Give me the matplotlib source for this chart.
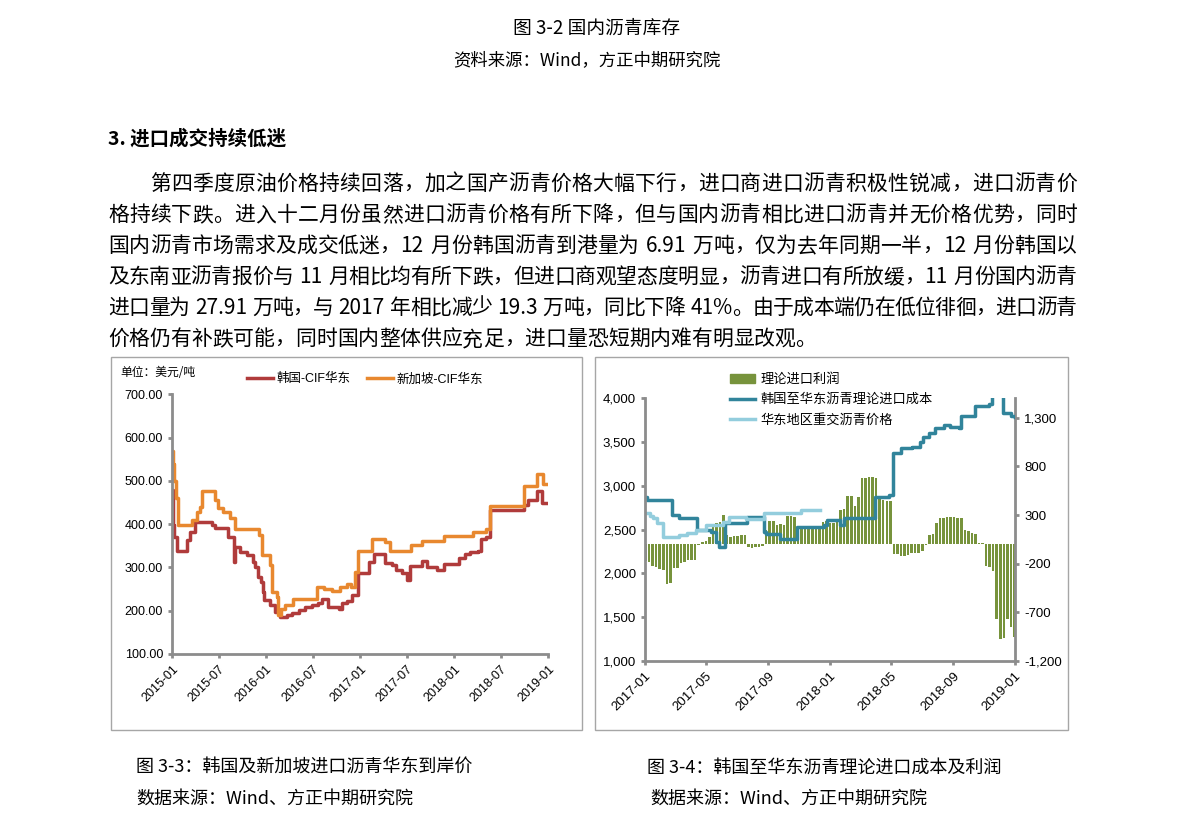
import re
import numpy as np
import pandas as pd
import matplotlib
matplotlib.use("Agg")
import matplotlib.pyplot as plt
import matplotlib.dates as mdates
from matplotlib.patches import Rectangle, Patch
from matplotlib.lines import Line2D
from matplotlib.ticker import FuncFormatter

W, H = 1191, 826
CJK = ["Noto Sans CJK SC", "DejaVu Sans"]
NUM = ["Liberation Sans", "Noto Sans CJK SC"]
plt.rcParams["font.family"] = CJK

# ---- 文字 ----
title_top = "图 3-2 国内沥青库存"
source_top = "资料来源：Wind，方正中期研究院"
heading = "3. 进口成交持续低迷"
para = [
    "第四季度原油价格持续回落，加之国产沥青价格大幅下行，进口商进口沥青积极性锐减，进口沥青价",
    "格持续下跌。进入十二月份虽然进口沥青价格有所下降，但与国内沥青相比进口沥青并无价格优势，同时",
    "国内沥青市场需求及成交低迷，12 月份韩国沥青到港量为 6.91 万吨，仅为去年同期一半，12 月份韩国以",
    "及东南亚沥青报价与 11 月相比均有所下跌，但进口商观望态度明显，沥青进口有所放缓，11 月份国内沥青",
    "进口量为 27.91 万吨，与 2017 年相比减少 19.3 万吨，同比下降 41%。由于成本端仍在低位徘徊，进口沥青",
    "价格仍有补跌可能，同时国内整体供应充足，进口量恐短期内难有明显改观。",
]
cap1 = "图 3-3：韩国及新加坡进口沥青华东到岸价"
cap2 = "图 3-4：韩国至华东沥青理论进口成本及利润"
src = "数据来源：Wind、方正中期研究院"

# ---- 图 3-3 数据 (美元/吨) ----
kr_dates = ["2015-01-01", "2015-01-04", "2015-01-10", "2015-01-22", "2015-02-28", "2015-03-10",
            "2015-03-30", "2015-06-04", "2015-06-16", "2015-08-07", "2015-08-31", "2015-09-04",
            "2015-09-22", "2015-10-19", "2015-11-13", "2015-11-19", "2015-12-03", "2015-12-13",
            "2015-12-19", "2015-12-25", "2016-01-17", "2016-02-06", "2016-02-24", "2016-03-22",
            "2016-04-10", "2016-05-07", "2016-06-01", "2016-06-28", "2016-07-22", "2016-08-04",
            "2016-08-28", "2016-10-10", "2016-10-22", "2016-11-10", "2016-12-01", "2016-12-25",
            "2017-02-04", "2017-02-22", "2017-04-07", "2017-05-04", "2017-05-22", "2017-06-13",
            "2017-07-01", "2017-07-13", "2017-08-28", "2017-09-16", "2017-10-25", "2017-11-22",
            "2018-01-19", "2018-02-13", "2018-03-04", "2018-04-04", "2018-04-16", "2018-05-07",
            "2018-05-19", "2018-09-28", "2018-10-16", "2018-11-19", "2018-12-07", "2019-01-01"]
kr_vals = [478, 398, 371, 339, 363, 383,
           404, 398, 392, 371, 313, 348,
           336, 328, 313, 302, 279, 267,
           244, 225, 213, 198, 185, 191,
           195, 202, 209, 213, 217, 228,
           209, 204, 217, 222, 236, 286,
           313, 330, 310, 306, 294, 286,
           271, 304, 316, 302, 294, 307,
           321, 330, 335, 338, 366, 371,
           433, 444, 456, 477, 448, 448]

sg_dates = ["2015-01-01", "2015-01-04", "2015-01-10", "2015-01-16", "2015-01-25", "2015-03-18",
            "2015-04-07", "2015-04-19", "2015-04-28", "2015-06-16", "2015-06-30", "2015-07-19",
            "2015-08-13", "2015-09-04", "2015-12-04", "2015-12-16", "2016-01-17", "2016-01-25",
            "2016-02-12", "2016-02-18", "2016-02-29", "2016-03-16", "2016-04-16", "2016-07-16",
            "2016-08-13", "2016-09-13", "2016-10-16", "2016-11-10", "2016-11-25", "2016-12-13",
            "2016-12-22", "2017-02-15", "2017-04-07", "2017-04-28", "2017-07-19", "2017-08-28",
            "2017-11-22", "2018-03-16", "2018-05-07", "2018-05-19", "2018-09-28", "2018-11-19",
            "2018-12-13", "2019-01-01"]
sg_vals = [570, 540, 500, 460, 398, 410,
           429, 440, 477, 456, 437, 428,
           415, 388, 375, 329, 306, 244,
           232, 190, 205, 213, 227, 254,
           250, 246, 255, 261, 255, 290,
           339, 366, 358, 338, 352, 362,
           373, 383, 389, 443, 489, 516,
           492, 492]

# ---- 图 3-4 数据 ----
cost_dates = ["2017-01-01", "2017-01-05", "2017-02-23", "2017-03-09", "2017-04-13", "2017-05-11",
              "2017-05-21", "2017-05-27", "2017-06-08", "2017-07-21", "2017-08-23", "2017-08-28",
              "2017-09-24", "2017-10-27", "2017-12-20", "2017-12-27", "2018-01-21", "2018-01-28",
              "2018-03-30", "2018-04-28", "2018-05-05", "2018-05-21", "2018-06-12", "2018-06-27",
              "2018-07-03", "2018-07-16", "2018-07-28", "2018-08-14", "2018-08-25", "2018-09-12",
              "2018-09-16", "2018-10-14", "2018-11-10", "2018-11-17", "2018-12-09", "2018-12-25",
              "2019-01-01"]
cost_vals = [2870, 2839, 2667, 2637, 2500, 2470,
             2363, 2305, 2580, 2650, 2477, 2447,
             2393, 2530, 2553, 2605, 2553, 2637,
             2877, 2896, 3380, 3429, 3440, 3505,
             3562, 3600, 3657, 3695, 3669, 3657,
             3800, 3912, 3940, 4200, 3829, 3800,
             3790]

hd_dates = ["2017-01-01", "2017-01-10", "2017-01-17", "2017-01-24", "2017-02-06", "2017-03-09",
            "2017-03-25", "2017-04-12", "2017-05-01", "2017-06-04", "2017-06-16", "2017-07-20",
            "2017-08-24", "2017-11-04", "2017-12-12"]
hd_vals = [2690, 2660, 2630, 2573, 2420, 2440,
           2460, 2496, 2553, 2592, 2641, 2618,
           2687, 2721, 2721]

# 理论进口利润, 每周一根 (从 2017-01-02 起)
profit = [-173, -180, -224, -230, -258, -262, -405, -400, -241, -245,
          -190, -185, -163, -160, -158, -8, 25, 35, 71, 184,
          215, 225, 303, 90, 78, 85, 88, 92, 98, -30,
          -35, -28, -25, -20, 150, 235, 240, 200, 205, 200,
          286, 290, 282, 190, 184, 186, 180, 188, 184, 190,
          230, 240, 220, 218, 225, 354, 360, 497, 500, 390,
          490, 680, 677, 687, 690, 680, 460, 456, 445, 440,
          -100, -105, -120, -125, -110, -88, -85, -90, -70, -10,
          99, 105, 218, 269, 265, 279, 275, 285, 270, 265,
          150, 133, 116, 110, 14, 10, -224, -230, -276, -769,
          -973, -960, -769, -854, -956]
profit_dates = pd.date_range("2017-01-02", periods=len(profit), freq="7D")


def fx(x):
    return x / W


def fy(y):
    return 1 - y / H


fig = plt.figure(figsize=(W / 100, H / 100), dpi=100)
renderer = fig.canvas.get_renderer()


def text_line(s, x0, y, x1=None, size=15):
    # 两端对齐: 汉字按 1 em, 西文串按实际宽度
    em = size / 72 * 100
    toks = re.findall(r"[A-Za-z0-9.%]+| |.", s)
    items = []
    for t in toks:
        if t == " ":
            items.append((None, em * 0.3))
        elif t.isascii():
            o = fig.text(fx(x0), fy(y), t, fontsize=size, va="center", ha="left")
            items.append((o, o.get_window_extent(renderer).width))
        else:
            o = fig.text(fx(x0), fy(y), t, fontsize=size, va="center", ha="left")
            items.append((o, em))
    total = sum(w for _, w in items)
    gap = (x1 - x0 - total) / (len(items) - 1) if x1 else 0
    x = x0
    for o, w in items:
        if o is not None:
            o.set_x(fx(x))
        x += w + gap


def box(x0, y0, x1, y1):
    fig.patches.append(Rectangle((fx(x0), fy(y1)), fx(x1) - fx(x0), fy(y0) - fy(y1),
                                 transform=fig.transFigure, fill=False, ec="#a6a6a6", lw=1))


# 页面文字
fig.text(fx(597), fy(28), title_top, fontsize=13.5, ha="center", va="center")
fig.text(fx(587), fy(60), source_top, fontsize=12.5, ha="center", va="center")
fig.text(fx(108), fy(139), heading, fontsize=14, fontweight="bold", ha="left", va="center")
line_y = [184, 215, 246, 277, 308, 339]
for i, s in enumerate(para):
    x0 = 150 if i == 0 else 108
    x1 = 1077 if i < len(para) - 1 else None
    text_line(s, x0, line_y[i], x1)

fig.text(fx(136), fy(768), cap1, fontsize=13, ha="left", va="center")
fig.text(fx(136), fy(799), src, fontsize=13, ha="left", va="center")
fig.text(fx(647), fy(768), cap2, fontsize=13, ha="left", va="center")
fig.text(fx(650), fy(799), src, fontsize=13, ha="left", va="center")

box(111, 357, 582, 730)
box(595, 357, 1068, 730)

GREY = "#8c8c8c"


def style_axis(ax, size):
    for s in ax.spines.values():
        s.set_color(GREY)
        s.set_linewidth(2)
    ax.tick_params(color=GREY, width=2, length=3, labelsize=size,
                   labelfontfamily=NUM, labelcolor="black")
    ax.tick_params(axis="x", labelrotation=45)
    plt.setp(ax.get_xticklabels(), ha="right", rotation_mode="anchor")


# ---- 图 3-3 ----
ax1 = fig.add_axes([fx(172), fy(654), fx(548) - fx(172), fy(394.3) - fy(654)])
ax1.plot(pd.to_datetime(kr_dates), kr_vals, drawstyle="steps-post", color="#B03B3B",
         lw=2.5, label="韩国-CIF华东")
ax1.plot(pd.to_datetime(sg_dates), sg_vals, drawstyle="steps-post", color="#E8882F",
         lw=2.5, label="新加坡-CIF华东")
ax1.set_xlim(pd.Timestamp("2015-01-01"), pd.Timestamp("2019-01-01"))
ax1.set_ylim(100, 700)
ax1.set_yticks(np.arange(100, 701, 100))
ax1.yaxis.set_major_formatter(FuncFormatter(lambda v, p: f"{v:.2f}"))
ax1.set_xticks(pd.date_range("2015-01-01", "2019-01-01", freq="6MS"))
ax1.xaxis.set_major_formatter(mdates.DateFormatter("%Y-%m"))
ax1.spines["top"].set_visible(False)
ax1.spines["right"].set_visible(False)
style_axis(ax1, 9)
ax1.legend(loc="upper left", bbox_to_anchor=(fx(247), fy(373)), bbox_transform=fig.transFigure,
           ncol=2, frameon=False, prop={"family": NUM, "size": 9}, handlelength=2.1,
           handletextpad=0.25, columnspacing=1.3, borderpad=0, borderaxespad=0)
fig.text(fx(120), fy(372), "单位：美元/吨", fontsize=8.5, ha="left", va="center")

# ---- 图 3-4 ----
ax2 = fig.add_axes([fx(645), fy(661), fx(1015) - fx(645), fy(398.3) - fy(661)])
axb = ax2.twinx()
axb.bar(profit_dates, profit, width=5, color="#77933C", align="center")
ax2.set_zorder(axb.get_zorder() + 1)
ax2.patch.set_visible(False)
ax2.plot(pd.to_datetime(cost_dates), cost_vals, drawstyle="steps-post", color="#31849B", lw=2.5)
ax2.plot(pd.to_datetime(hd_dates), hd_vals, drawstyle="steps-post", color="#93CDDD", lw=2.5)
ax2.set_xlim(pd.Timestamp("2017-01-01"), pd.Timestamp("2019-01-01"))
ax2.set_ylim(1000, 4000)
ax2.set_yticks(np.arange(1000, 4001, 500))
axb.set_ylim(-1200, 1500)
axb.set_yticks(np.arange(-1200, 1301, 500))
comma = FuncFormatter(lambda v, p: f"{v:,.0f}")
ax2.yaxis.set_major_formatter(comma)
axb.yaxis.set_major_formatter(comma)
ax2.set_xticks(pd.date_range("2017-01-01", "2019-01-01", freq="4MS"))
ax2.xaxis.set_major_formatter(mdates.DateFormatter("%Y-%m"))
for s in ["top", "right"]:
    ax2.spines[s].set_visible(False)
for s in ["top", "left", "bottom"]:
    axb.spines[s].set_visible(False)
style_axis(ax2, 9.5)
style_axis(axb, 9.5)

handles = [Patch(color="#77933C"),
           Line2D([], [], color="#31849B", lw=2.5),
           Line2D([], [], color="#93CDDD", lw=2.5)]
labels = ["理论进口利润", "韩国至华东沥青理论进口成本", "华东地区重交沥青价格"]
ax2.legend(handles, labels, loc="upper left", bbox_to_anchor=(fx(730), fy(373)),
           bbox_transform=fig.transFigure, frameon=False, prop={"family": CJK, "size": 9.5},
           handlelength=1.9, handletextpad=0.4, labelspacing=0.55, borderpad=0, borderaxespad=0)

fig.savefig("out.png", dpi=100, facecolor="white")
plt.close(fig)
